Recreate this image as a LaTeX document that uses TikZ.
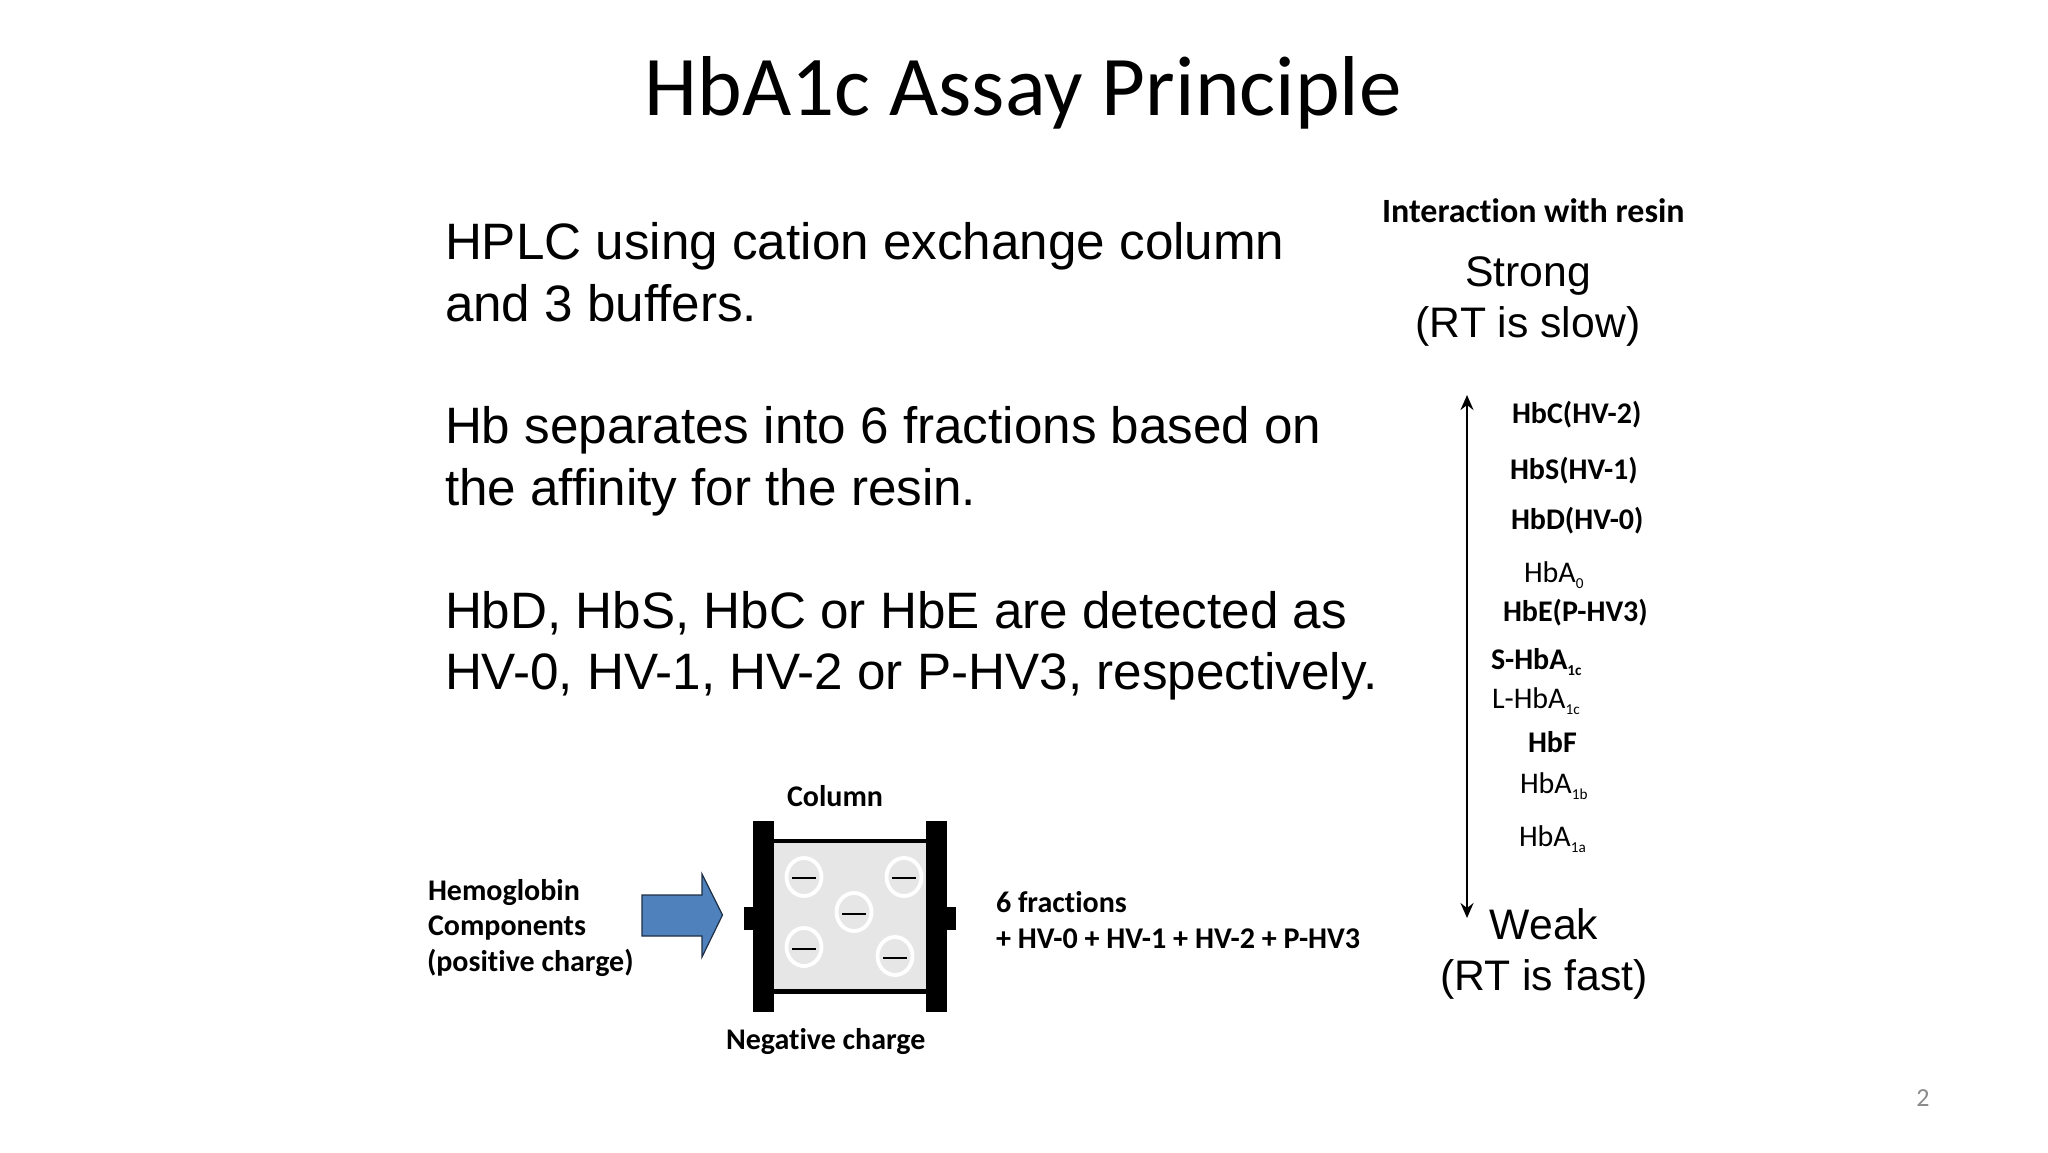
\documentclass[tikz,border=0pt]{standalone}
\usepackage{fontspec}
\usetikzlibrary{arrows.meta}
\setmainfont[RawFeature={-liga;-clig}]{Carlito}
\newfontfamily\arialf{Liberation Sans}
\definecolor{arrowblue}{HTML}{4F81BD}
\definecolor{arrowedge}{HTML}{1F2F45}
\definecolor{resin}{HTML}{E6E6E6}
\definecolor{pagegray}{HTML}{8B8B8B}
\newcommand{\pxsize}[1]{\fontsize{#1}{#1}\selectfont}
\newcommand{\subs}[1]{\raisebox{-0.22em}{\fontsize{7.6}{8}\selectfont #1}}
\tikzset{
  txt/.style={anchor=base west,inner sep=0pt,outer sep=0pt},
  ctr/.style={anchor=base,inner sep=0pt,outer sep=0pt},
  titletext/.style={ctr,font=\pxsize{42.5}},
  bodytext/.style={txt,font=\arialf\pxsize{25.6}},
  sidetext/.style={ctr,font=\arialf\pxsize{21.35}},
  boldtext/.style={txt,font=\bfseries\pxsize{15}},
  headtext/.style={txt,font=\bfseries\pxsize{17}},
  hbbold/.style={txt,font=\bfseries\pxsize{15}},
  hbplain/.style={txt,font=\pxsize{15}},
  blk/.style={fill=black,draw=none},
  charge/.style={draw=white,line width=1.9pt,fill=none},
  minus/.style={draw=black,line width=0.8pt},
  flowarrow/.style={fill=arrowblue,draw=arrowedge,line width=0.6pt,line join=miter},
  lane/.style={draw=black,line width=1pt,{Stealth[length=7.5pt,width=6.5pt,inset=2.5pt]}-{Stealth[length=7.5pt,width=6.5pt,inset=2.5pt]}}
}
\begin{document}
\begin{tikzpicture}[x=0.5pt,y=-0.5pt]
\useasboundingbox (0,0) rectangle (2048,1152);
\fill[white] (0,0) rectangle (2048,1152);
\node[titletext] (title) at (1023,115) {HbA1c Assay Principle};
% body
\node[bodytext] (b1) at (445,259) {HPLC using cation exchange column};
\node[bodytext] (b2) at (445,321) {and 3 buffers.};
\node[bodytext] (b3) at (445,443) {Hb separates into 6 fractions based on};
\node[bodytext] (b4) at (445,505) {the affinity for the resin.};
\node[bodytext] (b5) at (445,628) {HbD, HbS, HbC or HbE are detected as};
\node[bodytext] (b6) at (445,689) {HV-0, HV-1, HV-2 or P-HV3, respectively.};
% right column
\node[headtext] (inter) at (1382,222) {Interaction with resin};
\node[sidetext] (strong) at (1528,286) {Strong};
\node[sidetext] (slow) at (1528,337) {(RT is slow)};
\node[sidetext] (weak) at (1544,939) {Weak};
\node[sidetext] (fast) at (1544,990) {(RT is fast)};
\coordinate (laneTop) at (1467,395);
\coordinate (laneBot) at (1467,918);
\draw[lane] (laneTop) -- (laneBot);
\node[hbbold] (hbc) at (1512,423) {HbC(HV-2)};
\node[hbbold] (hbs) at (1510,479) {HbS(HV-1)};
\node[hbbold] (hbd) at (1511,529) {HbD(HV-0)};
\node[hbplain] (hba0) at (1524,582) {HbA\subs{0}};
\node[hbbold] (hbe) at (1503,621) {HbE(P-HV3)};
\node[hbbold] (shba) at (1491,669) {S-HbA\subs{1c}};
\node[hbplain] (lhba) at (1492,708) {L-HbA\subs{1c}};
\node[hbbold] (hbf) at (1528,752) {HbF};
\node[hbplain] (hba1b) at (1520,793) {HbA\subs{1b}};
\node[hbplain] (hba1a) at (1519,846) {HbA\subs{1a}};
% column
\node[boldtext] (coltxt) at (787,806) {Column};
\node[boldtext] (negtxt) at (726,1049) {Negative charge};
\fill[resin] (774,843) rectangle (926,989);
\fill[blk] (774,839) rectangle (926,843);
\fill[blk] (774,989) rectangle (926,994);
\fill[blk] (753,821) rectangle (774,1012);
\fill[blk] (926,821) rectangle (947,1012);
\fill[blk] (744,907) rectangle (753,930);
\fill[blk] (947,907) rectangle (956,930);
\draw[charge] (804,877) ellipse (17.5 and 19);
\draw[charge] (904,877) ellipse (17.5 and 19);
\draw[charge] (854,912) ellipse (17.5 and 19);
\draw[charge] (804,947) ellipse (17.5 and 19);
\draw[charge] (895,956) ellipse (17.5 and 19);
\draw[minus] (792,878) -- (816,878);
\draw[minus] (892,878) -- (916,878);
\draw[minus] (842,914) -- (866,914);
\draw[minus] (792,949) -- (816,949);
\draw[minus] (883,958) -- (907,958);
% flow arrow
\draw[flowarrow] (642,895) -- (702,895) -- (702,874) -- (722.5,915) -- (702,957) -- (702,936) -- (642,936) -- cycle;
\node[boldtext] (hem1) at (428,900) {Hemoglobin};
\node[boldtext] (hem2) at (428,935) {Components};
\node[boldtext] (hem3) at (427,971) {(positive charge)};
\node[boldtext] (frac1) at (996,912) {6 fractions};
\node[boldtext,font=\bfseries\pxsize{15.05}] (frac2) at (996,948) {+ HV-0 + HV-1 + HV-2 + P-HV3};
\node[anchor=base,inner sep=0pt,text=pagegray,font=\pxsize{13}] (pagenum) at (1923,1106) {2};
\end{tikzpicture}
\end{document}
